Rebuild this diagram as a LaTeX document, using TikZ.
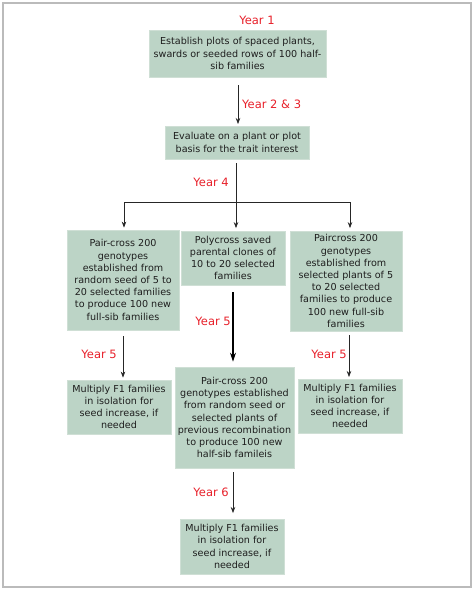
\documentclass[tikz,border=0pt]{standalone}
\usepackage{fontspec}
\setmainfont{DejaVu Sans}
\usetikzlibrary{arrows.meta}
\definecolor{boxgreen}{HTML}{BCD4C6}
\definecolor{boxedge}{HTML}{CFDFD5}
\definecolor{yearred}{HTML}{E8202A}
\definecolor{txt}{HTML}{1E1E1E}
\definecolor{frame}{HTML}{BBBBBB}
\tikzset{
  box/.style={fill=boxgreen, draw=boxedge, line width=0.8pt, inner sep=0pt, align=center,
    font=\fontsize{9.6}{12.2}\selectfont, text=txt},
  yr/.style={text=yearred, font=\fontsize{11.5}{12}\selectfont, inner sep=0pt},
  arr/.style={draw=black!85, line width=0.7pt, -{Stealth[length=6pt,width=4.5pt]}},
  bigarr/.style={draw=black, line width=1.1pt, -{Stealth[length=9pt,width=6pt]}},
  ln/.style={draw=black!85, line width=0.7pt}
}
\begin{document}
\begin{tikzpicture}[x=1pt,y=-1pt]
\useasboundingbox (0,0) rectangle (474,590);
\fill[white] (0,0) rectangle (474,590);
\draw[frame, line width=2pt] (3,3) rectangle (471,587);

\node[box, minimum width=177pt, minimum height=47pt] (b1) at (237.5,53.5)
  {Establish plots of spaced plants,\\swards or seeded rows of 100 half-\\sib families};
\node[box, minimum width=144pt, minimum height=33pt] (b2) at (237,142.5)
  {Evaluate on a plant or plot\\basis for the trait interest};
\node[box, minimum width=112pt, minimum height=100pt] (b3) at (123,280)
  {Pair-cross 200\\genotypes\\established from\\random seed of 5 to\\20 selected families\\to produce 100 new\\full-sib families};
\node[box, minimum width=104pt, minimum height=54pt] (b4) at (233,258)
  {Polycross saved\\parental clones of\\10 to 20 selected\\families};
\node[box, minimum width=112pt, minimum height=100pt] (b5) at (346,281)
  {Paircross 200\\genotypes\\established from\\selected plants of 5\\to 20 selected\\families to produce\\100 new full-sib\\families};
\node[box, minimum width=104pt, minimum height=54pt] (b6) at (119,407)
  {Multiply F1 families\\in isolation for\\seed increase, if\\needed};
\node[box, minimum width=119pt, minimum height=101pt] (b7) at (234.5,417.5)
  {Pair-cross 200\\genotypes established\\from random seed or\\selected plants of\\previous recombination\\to produce 100 new\\half-sib famileis};
\node[box, minimum width=104pt, minimum height=54pt] (b8) at (350,406)
  {Multiply F1 families\\in isolation for\\seed increase, if\\needed};
\node[box, minimum width=104pt, minimum height=55pt] (b9) at (232,546.5)
  {Multiply F1 families\\in isolation for\\seed increase, if\\needed};

\node[yr] (y1) at (257,20) {Year 1};
\node[yr, anchor=west] (y23) at (242,104) {Year 2 \& 3};
\node[yr, anchor=east] (y4) at (229,182) {Year 4};
\node[yr, anchor=east] (y5m) at (231,321) {Year 5};
\node[yr, anchor=east] (y5l) at (117,354) {Year 5};
\node[yr, anchor=east] (y5r) at (347,354) {Year 5};
\node[yr, anchor=east] (y6) at (229,492) {Year 6};

\coordinate (j) at (236,202);
\coordinate (jl) at (124,202);
\coordinate (jr) at (350,202);

\draw[arr, shorten <=8pt, shorten >=2pt] (238,77) -- (238,126);
\draw[ln, shorten <=4pt] (b2.south -| j) -- (j);
\draw[ln] (jl) -- (jr);
\draw[arr, shorten >=2pt] (jl) -- (jl |- b3.north);
\draw[arr, shorten >=2.5pt] (j) -- (j |- b4.north);
\draw[arr, shorten >=2.5pt] (jr) -- (jr |- b5.north);
\draw[bigarr, shorten <=7pt, shorten >=5pt] (b4.south) -- (b4.south |- b7.north);
\draw[arr, shorten <=6pt, shorten >=2pt] (b3.south) -- (b3.south |- b6.north);
\draw[arr, shorten <=4pt, shorten >=2pt] (349,331) -- (349,379);
\draw[arr, shorten <=4pt, shorten >=6pt] (233,468) -- (233,519);
\end{tikzpicture}
\end{document}
